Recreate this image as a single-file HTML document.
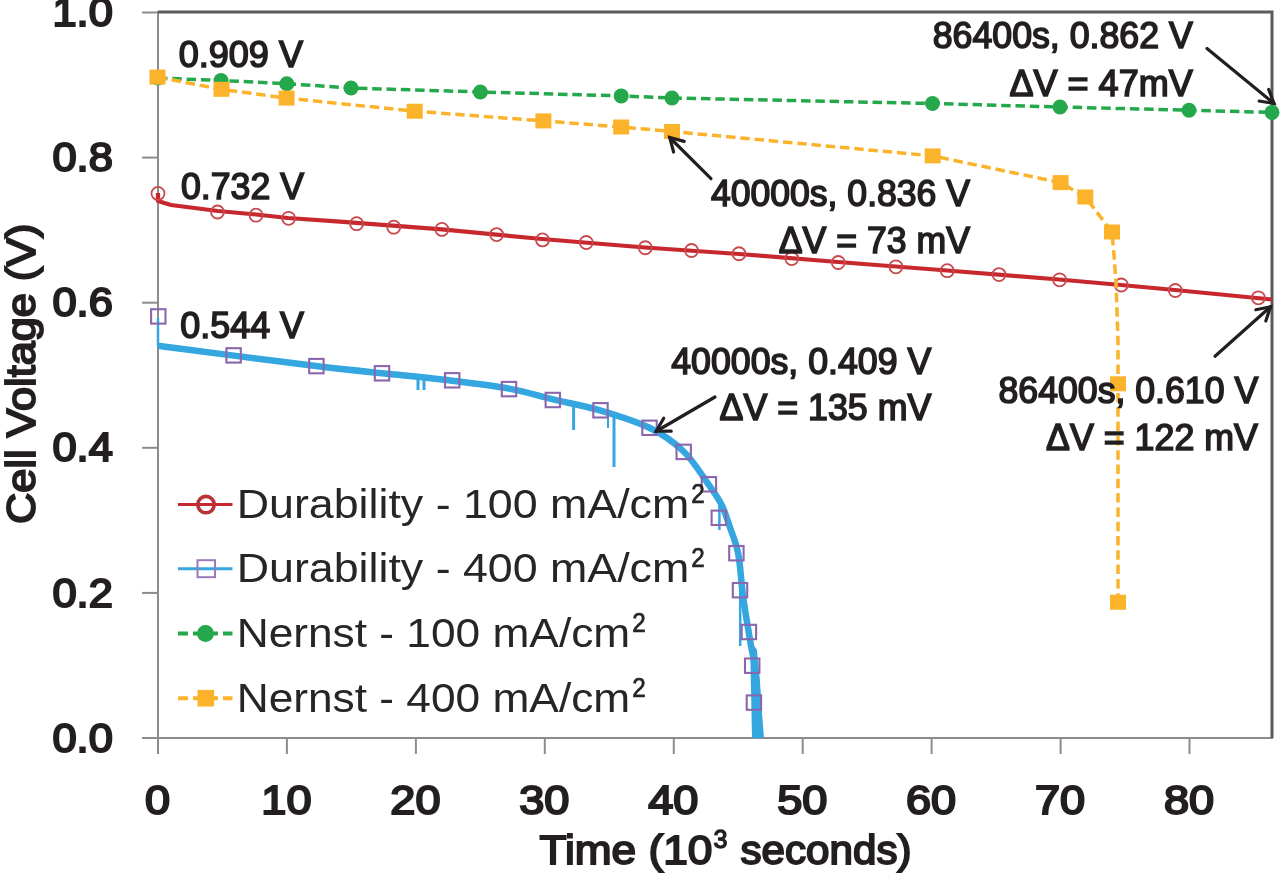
<!DOCTYPE html><html><head><meta charset="utf-8"><style>html,body{margin:0;padding:0;background:#fff;width:1280px;height:874px;overflow:hidden}svg{display:block;filter:blur(0.6px)}text{font-family:"Liberation Sans",sans-serif}</style></head><body>
<svg width="1280" height="874" viewBox="0 0 1280 874">
<g stroke="#8c8c8c" stroke-width="2" fill="none">
<line x1="158" y1="11" x2="158" y2="739"/>
<line x1="157" y1="738" x2="1273" y2="738"/>
<line x1="142" y1="738.0" x2="158" y2="738.0"/>
<line x1="142" y1="592.9" x2="158" y2="592.9"/>
<line x1="142" y1="447.8" x2="158" y2="447.8"/>
<line x1="142" y1="302.7" x2="158" y2="302.7"/>
<line x1="142" y1="157.6" x2="158" y2="157.6"/>
<line x1="142" y1="12.5" x2="158" y2="12.5"/>
<line x1="158.0" y1="738" x2="158.0" y2="754"/>
<line x1="286.9" y1="738" x2="286.9" y2="754"/>
<line x1="415.9" y1="738" x2="415.9" y2="754"/>
<line x1="544.8" y1="738" x2="544.8" y2="754"/>
<line x1="673.8" y1="738" x2="673.8" y2="754"/>
<line x1="802.7" y1="738" x2="802.7" y2="754"/>
<line x1="931.6" y1="738" x2="931.6" y2="754"/>
<line x1="1060.6" y1="738" x2="1060.6" y2="754"/>
<line x1="1189.5" y1="738" x2="1189.5" y2="754"/>
</g>
<g stroke="#5a5a5a" stroke-width="3" fill="none"><polyline points="158,12 1272,12 1272,738"/></g>
<polyline points="158.0,193.0 158.0,201.0 171.0,205.0 218.0,211.0 256.0,214.5 288.0,218.0 340.0,221.6 442.0,229.4 542.0,239.0 645.0,247.5 739.0,254.0 838.0,262.0 947.0,270.5 1059.0,279.5 1121.0,285.0 1175.0,290.0 1272.0,299.5" fill="none" stroke="#c6282e" stroke-width="4.2" stroke-linejoin="round"/>
<circle cx="158" cy="193.4" r="6.5" fill="none" stroke="#c84a4e" stroke-width="1.8"/>
<circle cx="217.5" cy="212" r="6.5" fill="none" stroke="#c84a4e" stroke-width="1.8"/>
<circle cx="256" cy="215.2" r="6.5" fill="none" stroke="#c84a4e" stroke-width="1.8"/>
<circle cx="288.6" cy="218.3" r="6.5" fill="none" stroke="#c84a4e" stroke-width="1.8"/>
<circle cx="356.6" cy="223.7" r="6.5" fill="none" stroke="#c84a4e" stroke-width="1.8"/>
<circle cx="393.75" cy="227.2" r="6.5" fill="none" stroke="#c84a4e" stroke-width="1.8"/>
<circle cx="441.9" cy="229.4" r="6.5" fill="none" stroke="#c84a4e" stroke-width="1.8"/>
<circle cx="496.6" cy="234.6" r="6.5" fill="none" stroke="#c84a4e" stroke-width="1.8"/>
<circle cx="542.5" cy="239.9" r="6.5" fill="none" stroke="#c84a4e" stroke-width="1.8"/>
<circle cx="586.25" cy="242.5" r="6.5" fill="none" stroke="#c84a4e" stroke-width="1.8"/>
<circle cx="645.3" cy="247.75" r="6.5" fill="none" stroke="#c84a4e" stroke-width="1.8"/>
<circle cx="691.5" cy="250.5" r="6.5" fill="none" stroke="#c84a4e" stroke-width="1.8"/>
<circle cx="739" cy="253.75" r="6.5" fill="none" stroke="#c84a4e" stroke-width="1.8"/>
<circle cx="791.75" cy="258.6" r="6.5" fill="none" stroke="#c84a4e" stroke-width="1.8"/>
<circle cx="838.25" cy="262.5" r="6.5" fill="none" stroke="#c84a4e" stroke-width="1.8"/>
<circle cx="895.9" cy="266.8" r="6.5" fill="none" stroke="#c84a4e" stroke-width="1.8"/>
<circle cx="947.2" cy="270.7" r="6.5" fill="none" stroke="#c84a4e" stroke-width="1.8"/>
<circle cx="999" cy="274.6" r="6.5" fill="none" stroke="#c84a4e" stroke-width="1.8"/>
<circle cx="1059.6" cy="279.8" r="6.5" fill="none" stroke="#c84a4e" stroke-width="1.8"/>
<circle cx="1121.3" cy="285" r="6.5" fill="none" stroke="#c84a4e" stroke-width="1.8"/>
<circle cx="1175.3" cy="290.5" r="6.5" fill="none" stroke="#c84a4e" stroke-width="1.8"/>
<circle cx="1258.4" cy="297.8" r="6.5" fill="none" stroke="#c84a4e" stroke-width="1.8"/>
<line x1="158" y1="318" x2="158" y2="346" stroke="#35a7e0" stroke-width="2.5"/>
<path d="M158.0,345.6 C160.8,346.0 162.7,346.4 175.0,348.0 C187.3,349.6 208.5,352.4 232.0,355.4 C255.5,358.4 291.0,363.0 316.0,366.0 C341.0,369.0 361.3,371.1 382.0,373.3 C402.7,375.5 418.8,376.8 440.0,379.3 C461.2,381.9 490.2,385.2 509.0,388.6 C527.8,392.0 537.8,395.8 553.0,399.4 C568.2,403.0 583.8,405.5 600.0,410.3 C616.2,415.1 636.0,421.1 650.0,428.0 C664.0,434.9 674.1,442.3 683.7,451.5 C693.3,460.7 701.2,474.2 707.5,483.0 C713.8,491.8 717.5,496.8 721.2,504.0 C724.9,511.2 726.7,517.7 729.5,526.0 C732.3,534.3 735.9,541.7 738.2,553.6 C740.5,565.5 741.2,583.1 743.2,597.5 C745.2,611.9 747.8,626.5 750.0,640.0 C752.2,653.5 755.0,662.4 756.5,678.7 C758.0,695.0 758.3,728.1 758.7,738.0" fill="none" stroke="#35a7e0" stroke-width="6.5" stroke-linejoin="round"/>
<polygon points="750,640 757,650 764,738 752,738" fill="#35a7e0"/>
<line x1="418" y1="378" x2="418" y2="390" stroke="#35a7e0" stroke-width="3"/>
<line x1="424" y1="379" x2="424" y2="390" stroke="#35a7e0" stroke-width="3"/>
<line x1="573.6" y1="402" x2="573.6" y2="430" stroke="#35a7e0" stroke-width="3"/>
<line x1="614" y1="415" x2="614" y2="467" stroke="#35a7e0" stroke-width="3"/>
<line x1="608" y1="412" x2="608" y2="428" stroke="#35a7e0" stroke-width="2"/>
<line x1="719.4" y1="505" x2="719.4" y2="530" stroke="#35a7e0" stroke-width="2.5"/>
<line x1="740.2" y1="575" x2="740.2" y2="646" stroke="#35a7e0" stroke-width="2.5"/>
<rect x="151.10000000000002" y="309.2" width="14.4" height="14.4" fill="none" stroke="#8a67ad" stroke-width="2.1"/>
<rect x="226.4" y="348.2" width="14.4" height="14.4" fill="none" stroke="#8a67ad" stroke-width="2.1"/>
<rect x="309.2" y="358.90000000000003" width="14.4" height="14.4" fill="none" stroke="#8a67ad" stroke-width="2.1"/>
<rect x="374.8" y="366.1" width="14.4" height="14.4" fill="none" stroke="#8a67ad" stroke-width="2.1"/>
<rect x="445.0" y="373.1" width="14.4" height="14.4" fill="none" stroke="#8a67ad" stroke-width="2.1"/>
<rect x="501.8" y="381.90000000000003" width="14.4" height="14.4" fill="none" stroke="#8a67ad" stroke-width="2.1"/>
<rect x="545.5999999999999" y="392.8" width="14.4" height="14.4" fill="none" stroke="#8a67ad" stroke-width="2.1"/>
<rect x="593.3" y="403.1" width="14.4" height="14.4" fill="none" stroke="#8a67ad" stroke-width="2.1"/>
<rect x="642.3" y="420.6" width="14.4" height="14.4" fill="none" stroke="#8a67ad" stroke-width="2.1"/>
<rect x="676.5" y="444.7" width="14.4" height="14.4" fill="none" stroke="#8a67ad" stroke-width="2.1"/>
<rect x="701.6999999999999" y="477.1" width="14.4" height="14.4" fill="none" stroke="#8a67ad" stroke-width="2.1"/>
<rect x="711.5999999999999" y="510.59999999999997" width="14.4" height="14.4" fill="none" stroke="#8a67ad" stroke-width="2.1"/>
<rect x="729.1999999999999" y="546.0" width="14.4" height="14.4" fill="none" stroke="#8a67ad" stroke-width="2.1"/>
<rect x="732.8" y="583.0" width="14.4" height="14.4" fill="none" stroke="#8a67ad" stroke-width="2.1"/>
<rect x="741.6999999999999" y="624.8" width="14.4" height="14.4" fill="none" stroke="#8a67ad" stroke-width="2.1"/>
<rect x="745.0" y="658.5" width="14.4" height="14.4" fill="none" stroke="#8a67ad" stroke-width="2.1"/>
<rect x="746.6999999999999" y="695.4" width="14.4" height="14.4" fill="none" stroke="#8a67ad" stroke-width="2.1"/>
<polyline points="158.0,78.0 221.0,80.5 286.8,83.7 351.0,88.0 480.4,92.0 621.2,95.9 672.0,98.0 932.5,103.5 1060.0,107.0 1189.0,110.2 1272.0,112.4" fill="none" stroke="#25a84b" stroke-width="3.5" stroke-dasharray="9.5 4.8"/>
<circle cx="158" cy="78" r="7.5" fill="#25a84b"/>
<circle cx="221" cy="80.5" r="7.5" fill="#25a84b"/>
<circle cx="286.8" cy="83.7" r="7.5" fill="#25a84b"/>
<circle cx="351" cy="88" r="7.5" fill="#25a84b"/>
<circle cx="480.4" cy="92" r="7.5" fill="#25a84b"/>
<circle cx="621.2" cy="95.9" r="7.5" fill="#25a84b"/>
<circle cx="672" cy="98" r="7.5" fill="#25a84b"/>
<circle cx="932.5" cy="103.5" r="7.5" fill="#25a84b"/>
<circle cx="1060" cy="107" r="7.5" fill="#25a84b"/>
<circle cx="1189" cy="110.2" r="7.5" fill="#25a84b"/>
<circle cx="1272" cy="112.4" r="7.5" fill="#25a84b"/>
<polyline points="157.5,77.1 221.5,89.3 286.6,98.1 414.7,111.2 543.4,120.9 621.2,127.0 672.0,131.5 932.7,155.9 1060.6,182.6 1085.3,197.0 1112.0,232.0 1114.0,255.0 1116.0,283.0 1118.0,340.0 1118.0,602.2" fill="none" stroke="#fbb32b" stroke-width="3.5" stroke-dasharray="9.5 4.8"/>
<rect x="149.5" y="69.6" width="16" height="15" fill="#fbb32b"/>
<rect x="213.5" y="81.8" width="16" height="15" fill="#fbb32b"/>
<rect x="278.6" y="90.6" width="16" height="15" fill="#fbb32b"/>
<rect x="406.7" y="103.75" width="16" height="15" fill="#fbb32b"/>
<rect x="535.4" y="113.4" width="16" height="15" fill="#fbb32b"/>
<rect x="613.2" y="119.5" width="16" height="15" fill="#fbb32b"/>
<rect x="664" y="124.0" width="16" height="15" fill="#fbb32b"/>
<rect x="924.7" y="148.4" width="16" height="15" fill="#fbb32b"/>
<rect x="1052.6" y="175.1" width="16" height="15" fill="#fbb32b"/>
<rect x="1077.3" y="189.5" width="16" height="15" fill="#fbb32b"/>
<rect x="1104" y="224.5" width="16" height="15" fill="#fbb32b"/>
<rect x="1110" y="376.3" width="16" height="15" fill="#fbb32b"/>
<rect x="1110" y="594.75" width="16" height="15" fill="#fbb32b"/>
<g stroke="#231f20" stroke-width="3.2" fill="none" stroke-linecap="round">
<line x1="1207" y1="48.4" x2="1274" y2="103.5"/><polyline points="1259.2,101.0 1274,103.5 1268.7,89.5"/>
<line x1="711" y1="178.7" x2="669.7" y2="137.5"/><polyline points="684.2,141.4 669.7,137.5 673.6,152.0"/>
<line x1="715" y1="397" x2="656.25" y2="431.25"/><polyline points="663.7,418.2 656.25,431.25 671.2,431.2"/>
<line x1="1215" y1="356.2" x2="1270.5" y2="306.8"/><polyline points="1265.8,321.0 1270.5,306.8 1255.8,309.8"/>
</g>
<text x="178.75" y="66.70" font-size="36" fill="#231f20" stroke="#231f20" stroke-width="1.6" textLength="124.2" lengthAdjust="spacingAndGlyphs">0.909 V</text>
<text x="181" y="198.60" font-size="36" fill="#231f20" stroke="#231f20" stroke-width="1.6" textLength="123.0" lengthAdjust="spacingAndGlyphs">0.732 V</text>
<text x="180.25" y="338.45" font-size="36" fill="#231f20" stroke="#231f20" stroke-width="1.6" textLength="123.8" lengthAdjust="spacingAndGlyphs">0.544 V</text>
<text x="932.7" y="48.40" font-size="36" fill="#231f20" stroke="#231f20" stroke-width="1.6" textLength="260.1" lengthAdjust="spacingAndGlyphs">86400s, 0.862 V</text>
<text x="1009.4" y="96.20" font-size="36" fill="#231f20" stroke="#231f20" stroke-width="1.6" textLength="183.4" lengthAdjust="spacingAndGlyphs">ΔV = 47mV</text>
<text x="710.9" y="205.50" font-size="36" fill="#231f20" stroke="#231f20" stroke-width="1.6" textLength="259.1" lengthAdjust="spacingAndGlyphs">40000s, 0.836 V</text>
<text x="778.7" y="252.95" font-size="36" fill="#231f20" stroke="#231f20" stroke-width="1.6" textLength="191.3" lengthAdjust="spacingAndGlyphs">ΔV = 73 mV</text>
<text x="671.25" y="373.70" font-size="36" fill="#231f20" stroke="#231f20" stroke-width="1.6" textLength="260.0" lengthAdjust="spacingAndGlyphs">40000s, 0.409 V</text>
<text x="719.5" y="420.45" font-size="36" fill="#231f20" stroke="#231f20" stroke-width="1.6" textLength="211.8" lengthAdjust="spacingAndGlyphs">ΔV = 135 mV</text>
<text x="998.5" y="402.80" font-size="36" fill="#231f20" stroke="#231f20" stroke-width="1.6" textLength="259.7" lengthAdjust="spacingAndGlyphs">86400s, 0.610 V</text>
<text x="1046" y="450.20" font-size="36" fill="#231f20" stroke="#231f20" stroke-width="1.6" textLength="212.0" lengthAdjust="spacingAndGlyphs">ΔV = 122 mV</text>
<text x="236.7" y="518.2" font-size="40" font-weight="normal" fill="#262626" textLength="452.6" lengthAdjust="spacingAndGlyphs">Durability - 100 mA/cm</text>
<text x="691.3" y="503.0" font-size="27" fill="#262626" stroke="#262626" stroke-width="0.7" textLength="13.5" lengthAdjust="spacingAndGlyphs">2</text>
<line x1="178" y1="504.6" x2="232.5" y2="504.6" stroke="#c6282e" stroke-width="3"/>
<circle cx="206" cy="504.6" r="8.2" fill="none" stroke="#b83236" stroke-width="3.6"/>
<text x="236.7" y="582.3" font-size="40" font-weight="normal" fill="#262626" textLength="452.6" lengthAdjust="spacingAndGlyphs">Durability - 400 mA/cm</text>
<text x="691.3" y="567.1" font-size="27" fill="#262626" stroke="#262626" stroke-width="0.7" textLength="13.5" lengthAdjust="spacingAndGlyphs">2</text>
<line x1="178" y1="568.6999999999999" x2="232.5" y2="568.6999999999999" stroke="#35a7e0" stroke-width="3"/>
<rect x="197.5" y="560.1999999999999" width="17.5" height="17" fill="none" stroke="#9a7ab8" stroke-width="2"/>
<text x="236.7" y="647.2" font-size="40" font-weight="normal" fill="#262626" textLength="393.5" lengthAdjust="spacingAndGlyphs">Nernst - 100 mA/cm</text>
<text x="632.2" y="632.0" font-size="27" fill="#262626" stroke="#262626" stroke-width="0.7" textLength="13.5" lengthAdjust="spacingAndGlyphs">2</text>
<line x1="178" y1="633.6" x2="232.5" y2="633.6" stroke="#25a84b" stroke-width="4" stroke-dasharray="10 5"/>
<circle cx="205.5" cy="633.6" r="8.5" fill="#25a84b"/>
<text x="236.7" y="711.8" font-size="40" font-weight="normal" fill="#262626" textLength="393.5" lengthAdjust="spacingAndGlyphs">Nernst - 400 mA/cm</text>
<text x="632.2" y="696.6" font-size="27" fill="#262626" stroke="#262626" stroke-width="0.7" textLength="13.5" lengthAdjust="spacingAndGlyphs">2</text>
<line x1="178" y1="698.1999999999999" x2="232.5" y2="698.1999999999999" stroke="#fbb32b" stroke-width="4" stroke-dasharray="10 5"/>
<rect x="197.5" y="689.9" width="16.6" height="16.6" fill="#fbb32b"/>
<text transform="translate(112.8,26.1) scale(1.06,1)" font-size="41" fill="#231f20" stroke="#231f20" stroke-width="2.1" text-anchor="end">1.0</text>
<text transform="translate(112.8,171.2) scale(1.06,1)" font-size="41" fill="#231f20" stroke="#231f20" stroke-width="2.1" text-anchor="end">0.8</text>
<text transform="translate(112.8,316.3) scale(1.06,1)" font-size="41" fill="#231f20" stroke="#231f20" stroke-width="2.1" text-anchor="end">0.6</text>
<text transform="translate(112.8,461.4) scale(1.06,1)" font-size="41" fill="#231f20" stroke="#231f20" stroke-width="2.1" text-anchor="end">0.4</text>
<text transform="translate(112.8,606.5) scale(1.06,1)" font-size="41" fill="#231f20" stroke="#231f20" stroke-width="2.1" text-anchor="end">0.2</text>
<text transform="translate(112.8,751.6) scale(1.06,1)" font-size="41" fill="#231f20" stroke="#231f20" stroke-width="2.1" text-anchor="end">0.0</text>
<text transform="translate(157.5,814.4) scale(1.1,1)" font-size="41" fill="#231f20" stroke="#231f20" stroke-width="2.1" text-anchor="middle">0</text>
<text transform="translate(286.4,814.4) scale(1.1,1)" font-size="41" fill="#231f20" stroke="#231f20" stroke-width="2.1" text-anchor="middle">10</text>
<text transform="translate(415.4,814.4) scale(1.1,1)" font-size="41" fill="#231f20" stroke="#231f20" stroke-width="2.1" text-anchor="middle">20</text>
<text transform="translate(544.3,814.4) scale(1.1,1)" font-size="41" fill="#231f20" stroke="#231f20" stroke-width="2.1" text-anchor="middle">30</text>
<text transform="translate(673.3,814.4) scale(1.1,1)" font-size="41" fill="#231f20" stroke="#231f20" stroke-width="2.1" text-anchor="middle">40</text>
<text transform="translate(802.2,814.4) scale(1.1,1)" font-size="41" fill="#231f20" stroke="#231f20" stroke-width="2.1" text-anchor="middle">50</text>
<text transform="translate(931.1,814.4) scale(1.1,1)" font-size="41" fill="#231f20" stroke="#231f20" stroke-width="2.1" text-anchor="middle">60</text>
<text transform="translate(1060.1,814.4) scale(1.1,1)" font-size="41" fill="#231f20" stroke="#231f20" stroke-width="2.1" text-anchor="middle">70</text>
<text transform="translate(1189.0,814.4) scale(1.1,1)" font-size="41" fill="#231f20" stroke="#231f20" stroke-width="2.1" text-anchor="middle">80</text>
<text x="539.5" y="863.8" font-size="41" fill="#231f20" stroke="#231f20" stroke-width="1.9" textLength="173" lengthAdjust="spacingAndGlyphs">Time (10</text>
<text x="713.5" y="847.5" font-size="26" fill="#231f20" stroke="#231f20" stroke-width="1.3" textLength="14" lengthAdjust="spacingAndGlyphs">3</text>
<text x="740.5" y="863.8" font-size="41" fill="#231f20" stroke="#231f20" stroke-width="1.9" textLength="171" lengthAdjust="spacingAndGlyphs">seconds)</text>
<text transform="translate(34.8,524) rotate(-90)" x="0" y="0" font-size="41" fill="#231f20" stroke="#231f20" stroke-width="1.9" textLength="300.5" lengthAdjust="spacingAndGlyphs">Cell Voltage (V)</text>
</svg></body></html>
